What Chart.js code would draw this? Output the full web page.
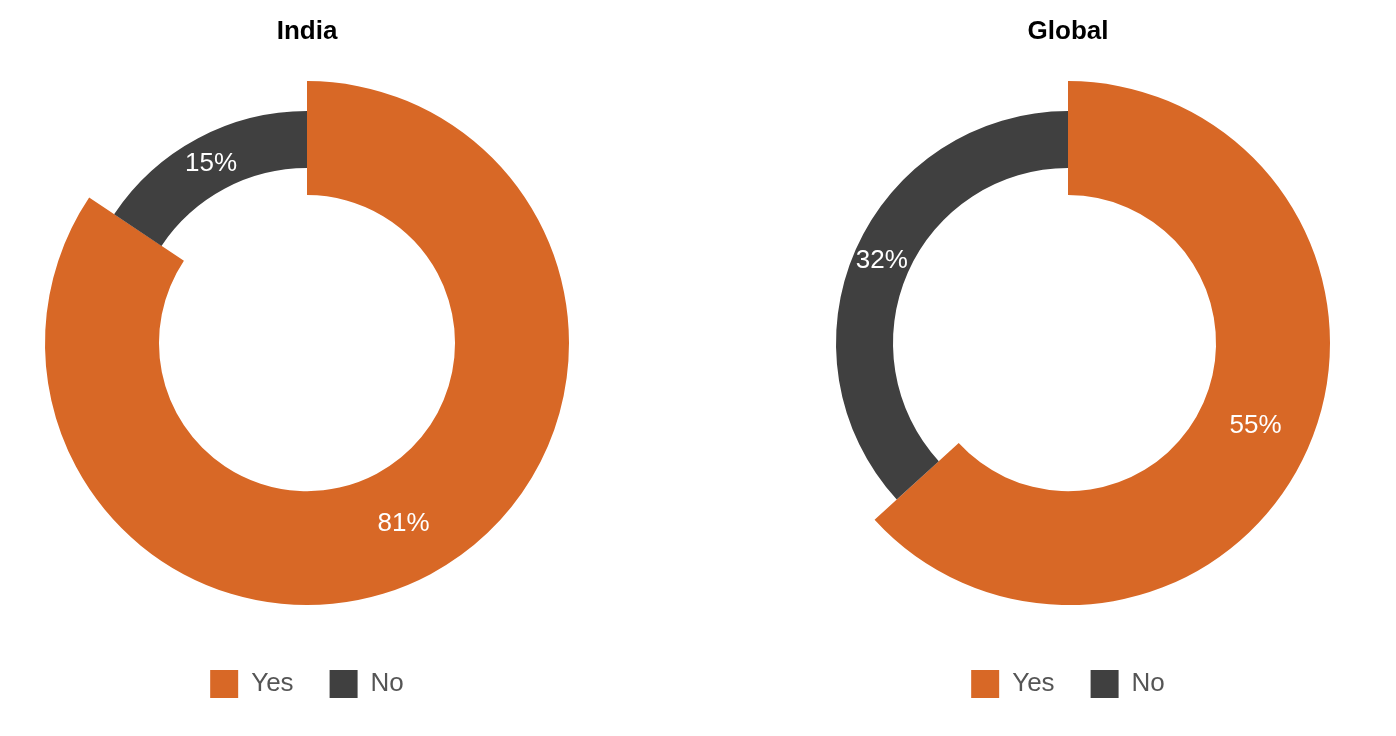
<!DOCTYPE html>
<html>
<head>
<meta charset="utf-8">
<script src="https://cdn.jsdelivr.net/npm/chart.js@4"></script>
<style>
  body { margin: 0; background: #fff; }
  .box { position: absolute; top: 0; width: 614px; height: 736px; }
</style>
</head>
<body>
<div class="box" style="left:0"><canvas id="india"></canvas></div>
<div class="box" style="left:761px"><canvas id="global"></canvas></div>
<script>
const categories = ["Yes", "No"];
const indiaValues = [81, 15];
const globalValues = [55, 32];
const colors = ["#D86826", "#404040"];

// No slice is a thinner ring than Yes
const ringPlugin = {
  id: "ring",
  afterDatasetsUpdate(chart) {
    const el = chart.getDatasetMeta(0).data[1];
    if (el) { el.innerRadius = 175; el.outerRadius = 232; }
  },
  afterDatasetsDraw(chart) {
    const ctx = chart.ctx;
    const data = chart.data.datasets[0].data;
    ctx.save();
    ctx.fillStyle = "#fff";
    ctx.font = "26px 'Liberation Sans', Arial, sans-serif";
    ctx.textAlign = "center";
    ctx.textBaseline = "middle";
    chart.getDatasetMeta(0).data.forEach((el, i) => {
      const p = el.getCenterPoint();
      ctx.fillText(data[i] + "%", p.x, p.y);
    });
    ctx.restore();
  }
};

function makeChart(id, title, values) {
  return new Chart(document.getElementById(id), {
    type: "doughnut",
    data: { labels: categories, datasets: [{ data: values, backgroundColor: colors, borderWidth: 0 }] },
    options: {
      responsive: true,
      maintainAspectRatio: false,
      animation: false,
      radius: 262,
      cutout: "56.5%",
      layout: { padding: { bottom: 28 } },
      plugins: {
        title: { display: true, text: title, color: "#000",
          font: { family: "'Liberation Sans', Arial, sans-serif", size: 26, weight: "bold" },
          padding: { top: 16, bottom: 5 } },
        legend: { position: "bottom",
          labels: { boxWidth: 28, boxHeight: 28, padding: 36, color: "#555",
            font: { family: "'Liberation Sans', Arial, sans-serif", size: 26 } } },
        tooltip: { enabled: false }
      }
    },
    plugins: [ringPlugin]
  });
}

makeChart("india", "India", indiaValues);
makeChart("global", "Global", globalValues);
</script>
</body>
</html>
